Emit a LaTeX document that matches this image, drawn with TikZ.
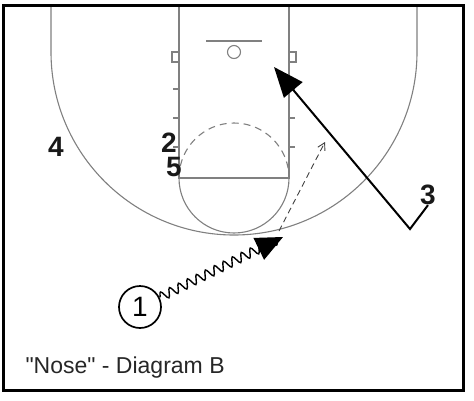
\documentclass[tikz,border=0pt]{standalone}
\usepackage{fontspec}
\setmainfont{Liberation Sans}
\usetikzlibrary{arrows.meta,decorations.pathmorphing}
\definecolor{courtgray}{gray}{0.5}

\begin{document}
\begin{tikzpicture}[x=1pt,y=-1pt,
    court/.style={draw=courtgray,line width=1.1pt},
    player/.style={font=\fontsize{28}{28}\selectfont\bfseries,inner sep=0pt,text=black!90},
    ballhandler/.style={circle,draw,line width=1.7pt,minimum size=42pt,inner sep=0pt,font=\fontsize{28}{28}\selectfont},
    dribble/.style={line width=1.4pt,decorate,decoration={snake,amplitude=4.5pt,segment length=10pt,post length=4pt},-{Triangle[length=27pt,width=24pt]}},
    pass/.style={line width=0.9pt,draw=black!75,dash pattern=on 6pt off 4pt,-{Straight Barb[length=7pt,width=8pt]}},
    cut/.style={line width=2pt,-{Triangle[length=30pt,width=24pt]}}]
    \pgfmathsetmacro{\lanel}{179}
    \pgfmathsetmacro{\laner}{289}
    \pgfmathsetmacro{\ftline}{178}
    \pgfmathsetmacro{\ftradius}{55}
    \pgfmathsetmacro{\rimx}{234}
    \pgfmathsetmacro{\rimy}{52}
    \pgfmathsetmacro{\arcradius}{183}
    \pgfmathsetmacro{\baseline}{5}
    \useasboundingbox (0,0) rectangle (474,400);
    % three point line
    \draw[court] (\rimx-\arcradius,\baseline) -- (\rimx-\arcradius,\rimy) arc[start angle=180,end angle=0,radius=\arcradius] -- (\rimx+\arcradius,\baseline);
    % lane and free throw circle
    \draw[court] (\lanel,\baseline) -- (\lanel,\ftline) -- (\laner,\ftline) -- (\laner,\baseline);
    \draw[court] (\lanel,\ftline) arc[start angle=180,end angle=0,radius=\ftradius];
    \draw[court,dash pattern=on 7pt off 5pt] (\lanel,\ftline) arc[start angle=180,end angle=360,radius=\ftradius];
    % rim and backboard
    \draw[court] (206,41) -- (262,41);
    \draw[court] (\rimx,\rimy) circle[radius=6.5];
    % blocks and hash marks
    \draw[court] (\lanel,52) rectangle (\lanel-7,62);
    \draw[court] (\laner,52) rectangle (\laner+7,62);
    \foreach \hy in {89,118,147} {
        \draw[court] (\lanel,\hy) -- (\lanel-6,\hy);
        \draw[court] (\laner,\hy) -- (\laner+6,\hy);
    }
    \draw[line width=3pt] (3.5,5) rectangle (463,390);
    % players
    \node[player] (p4) at (56,147) {4};
    \node[player] (p2) at (169,143) {2};
    \node[player] (p5) at (174,167) {5};
    \node[player] (p3) at (428,195) {3};
    \node[ballhandler] (p1) at (140,307) {1};
    \node[anchor=base west,font=\fontsize{23}{23}\selectfont,text=black!85] (caption) at (22,373) {\textquotedbl Nose\textquotedbl{} - Diagram B};
    % dribble, pass and cut
    \coordinate (dribtip) at (283,237);
    \draw[dribble] (p1) -- (dribtip);
    \coordinate (passstart) at (279,231);
    \coordinate (passend) at (325,142);
    \draw[pass] (passstart) -- (passend);
    \coordinate (cutv) at (410,229);
    \coordinate (cutend) at (274,67);
    \draw[cut] (p3.south) -- (cutv) -- (cutend);
\end{tikzpicture}
\end{document}
